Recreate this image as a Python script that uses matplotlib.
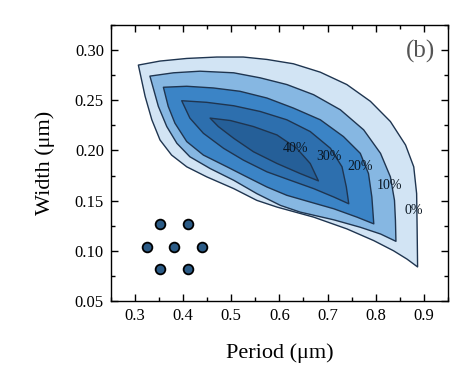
import matplotlib
matplotlib.use("Agg")
import matplotlib.pyplot as plt
from matplotlib.ticker import MultipleLocator

# ---------- data ----------
levels = ["0%", "10%", "20%", "30%", "40%"]

# outlines of each filled region (period, width) in µm
c0_x = [0.307, 0.352, 0.4075, 0.470, 0.525, 0.574, 0.629, 0.685, 0.740, 0.789, 0.8305, 0.862, 0.879, 0.885, 0.886, 0.887,
        0.865, 0.837, 0.796, 0.740, 0.671, 0.595, 0.553, 0.505, 0.449, 0.4075, 0.376, 0.352, 0.335, 0.321]
c0_y = [0.285, 0.289, 0.2916, 0.293, 0.293, 0.2906, 0.2863, 0.2779, 0.2656, 0.2489, 0.2288, 0.2054, 0.1837, 0.157, 0.1235, 0.084,
        0.0918, 0.1001, 0.1102, 0.1219, 0.1336, 0.1436, 0.1503, 0.162, 0.1737, 0.1837, 0.1954, 0.2104, 0.2305, 0.2539]

c1_x = [0.331, 0.380, 0.435, 0.505, 0.560, 0.6155, 0.671, 0.7265, 0.775, 0.810, 0.8305, 0.839, 0.841, 0.842,
        0.810, 0.768, 0.713, 0.643, 0.602, 0.553, 0.505, 0.456, 0.414, 0.387, 0.366, 0.3485]
c1_y = [0.274, 0.2773, 0.2789, 0.2773, 0.2723, 0.2656, 0.2555, 0.2405, 0.2205, 0.1971, 0.1737, 0.1503, 0.1302, 0.1095,
        0.1168, 0.1235, 0.1309, 0.1386, 0.1453, 0.157, 0.1703, 0.182, 0.1937, 0.2071, 0.2238, 0.2439]

c2_x = [0.359, 0.4075, 0.463, 0.518, 0.574, 0.629, 0.685, 0.733, 0.768, 0.785, 0.792, 0.796,
        0.761, 0.713, 0.664, 0.6155, 0.574, 0.532, 0.491, 0.442, 0.4075, 0.383, 0.369]
c2_y = [0.2629, 0.2639, 0.2622, 0.2589, 0.2522, 0.2422, 0.2305, 0.2138, 0.1971, 0.177, 0.1536, 0.1269,
        0.1336, 0.1419, 0.1486, 0.1553, 0.1636, 0.1737, 0.1837, 0.1954, 0.2088, 0.2271, 0.2439]

c3_x = [0.397, 0.449, 0.505, 0.560, 0.6155, 0.664, 0.706, 0.730, 0.739, 0.744,
        0.713, 0.671, 0.6225, 0.574, 0.525, 0.484, 0.442, 0.414]
c3_y = [0.2495, 0.2479, 0.2445, 0.2388, 0.2305, 0.2188, 0.2021, 0.1837, 0.1636, 0.1469,
        0.1536, 0.162, 0.1703, 0.1787, 0.1904, 0.2021, 0.2171, 0.2322]

c4_x = [0.456, 0.498, 0.546, 0.595, 0.636, 0.664, 0.681,
        0.643, 0.595, 0.546, 0.505, 0.473]
c4_y = [0.2322, 0.2298, 0.2238, 0.2154, 0.2021, 0.187, 0.1697,
        0.177, 0.187, 0.1987, 0.2121, 0.2238]

label_x = [0.879, 0.829, 0.768, 0.702, 0.633]
label_y = [0.140, 0.1653, 0.1837, 0.1944, 0.202]

# hexagonal lattice sketch
dot_x = [0.352, 0.4096, 0.3243, 0.3811, 0.4387, 0.352, 0.4096]
dot_y = [0.1269, 0.1269, 0.1041, 0.1041, 0.1041, 0.0818, 0.0818]

colors = ["#d2e4f4", "#86b7e2", "#3b84c6", "#2d6fae", "#255f98"]

# ---------- plot ----------
plt.rcParams["font.family"] = ["Liberation Serif", "DejaVu Serif"]

fig = plt.figure(figsize=(4.74, 3.89), dpi=100)
ax = fig.add_axes([0.234, 0.226, 0.711, 0.710])

outlines = [(c0_x, c0_y), (c1_x, c1_y), (c2_x, c2_y), (c3_x, c3_y), (c4_x, c4_y)]
for (xs, ys), col in zip(outlines, colors):
    ax.fill(xs, ys, facecolor=col, edgecolor="#1f3550", linewidth=1.0, joinstyle="round")

for lab, lx, ly in zip(levels, label_x, label_y):
    ax.text(lx, ly, lab, fontsize=10, color="#0a1622", ha="center", va="center")

ax.plot(dot_x, dot_y, "o", markersize=7, markerfacecolor="#2b5b86",
        markeredgecolor="black", markeredgewidth=1.3, linestyle="none")

ax.text(0.893, 0.299, "(b)", fontsize=18, color="#555555", ha="center", va="center")

ax.set_xlim(0.25, 0.95)
ax.set_ylim(0.05, 0.325)
ax.xaxis.set_minor_locator(MultipleLocator(0.05))
ax.yaxis.set_minor_locator(MultipleLocator(0.025))
ax.set_xticks([0.3, 0.4, 0.5, 0.6, 0.7, 0.8, 0.9])
ax.set_xticklabels(["0.3", "0.4", "0.5", "0.6", "0.7", "0.8", "0.9"])
ax.set_yticks([0.05, 0.10, 0.15, 0.20, 0.25, 0.30])
ax.set_yticklabels(["0.05", "0.10", "0.15", "0.20", "0.25", "0.30"])
ax.tick_params(which="both", direction="in", top=True, right=True, labelsize=12)
ax.tick_params(which="major", length=5, width=1, pad=5)
ax.tick_params(which="minor", length=3, width=1)
for sp in ax.spines.values():
    sp.set_linewidth(1.0)

ax.set_xlabel("Period (μm)", fontsize=16, labelpad=14)
ax.set_ylabel("Width (μm)", fontsize=16, labelpad=14)

fig.savefig("out.png", dpi=100)
